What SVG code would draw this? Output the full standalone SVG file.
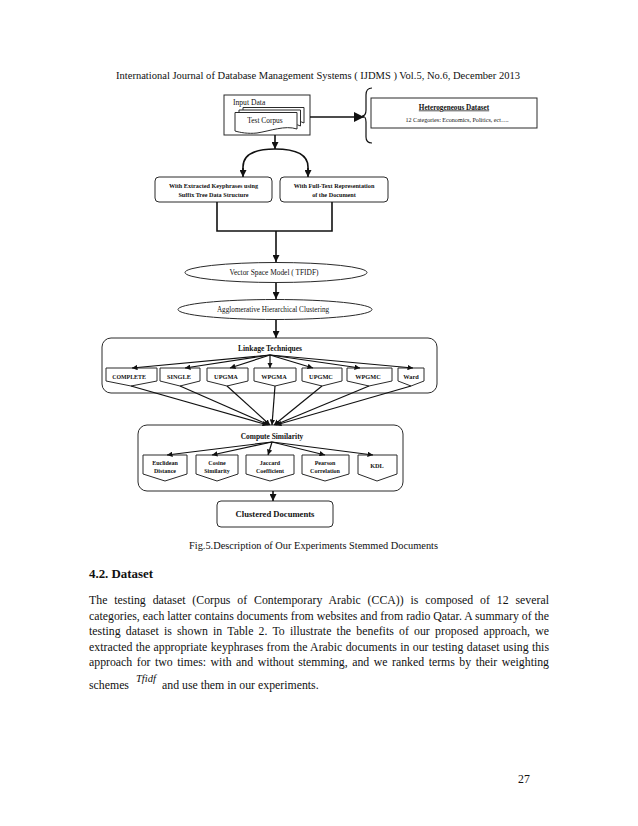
<svg xmlns="http://www.w3.org/2000/svg" width="638" height="826" viewBox="0 0 638 826">
<style>
.t{font-family:"Liberation Serif","Times New Roman",serif;fill:#111}
.b{font-weight:bold}
.m{text-anchor:middle}
.box{fill:#fff;stroke:#2a2a2a;stroke-width:1}
.con{fill:none;stroke:#111;stroke-width:1.2}
.thick{fill:none;stroke:#111;stroke-width:1.6}
</style>
<defs>
<marker id="a" viewBox="0 0 10 10" refX="10" refY="5" markerWidth="7" markerHeight="7" markerUnits="userSpaceOnUse" orient="auto"><path d="M0,0 L10,5 L0,10 z" fill="#111"/></marker>
<marker id="s" viewBox="0 0 10 10" refX="10" refY="5" markerWidth="5.5" markerHeight="5.5" markerUnits="userSpaceOnUse" orient="auto"><path d="M0,0 L10,5 L0,10 z" fill="#111"/></marker>
<marker id="L" viewBox="0 0 10 10" refX="10" refY="5" markerWidth="10" markerHeight="10" markerUnits="userSpaceOnUse" orient="auto"><path d="M0,0 L10,5 L0,10 z" fill="#111"/></marker>
</defs>
<rect width="638" height="826" fill="#fff"/>

<text class="t m" x="318" y="79" font-size="10.7" textLength="404" lengthAdjust="spacingAndGlyphs">International Journal of Database Management Systems ( IJDMS ) Vol.5, No.6, December 2013</text>

<g id="input-data">
<rect class="box" x="224" y="95" width="86" height="40"/>
<text class="t" x="233" y="105" font-size="7.6">Input Data</text>
<path class="box" d="M243,107.5 H304 V123 C297,119 288,124 280,124 H243 Z"/>
<path class="box" d="M239,110 H300.5 V126 C293,122 284,127 276,127 H239 Z"/>
<path class="box" d="M235,112.5 H297 V129 C285,125 270,131 257,133 C248,134 240,132.5 235,131 Z"/>
<text class="t m" x="265" y="123" font-size="7.4">Test Corpus</text>
</g>

<g id="heterogeneous-dataset">
<rect class="box" x="371" y="98" width="166" height="30"/>
<text class="t b m" x="454" y="109.5" font-size="7.2" text-decoration="underline">Heterogeneous Dataset</text>
<text class="t m" x="457" y="121.5" font-size="6.1">12 Categories: Economics, Politics,  ect….</text>
</g>

<g id="keyphrases">
<rect class="box" x="155" y="177" width="117" height="25" rx="4"/>
<text class="t b m" x="213.5" y="187.5" font-size="6.2">With Extracted Keyphrases using</text>
<text class="t b m" x="213.5" y="196.5" font-size="6.2">Suffix Tree Data Structure</text>
</g>

<g id="fulltext">
<rect class="box" x="280" y="177" width="108" height="25" rx="4"/>
<text class="t b m" x="334" y="187.5" font-size="6.2">With Full-Text  Representation</text>
<text class="t b m" x="334" y="196.5" font-size="6.2">of the Document</text>
</g>

<g id="vsm">
<ellipse class="box" cx="276" cy="272.5" rx="91" ry="10"/>
<text class="t m" x="274" y="275" font-size="7.4">Vector Space Model ( TFIDF)</text>
</g>

<g id="ahc">
<ellipse class="box" cx="275" cy="309.5" rx="97" ry="10"/>
<text class="t m" x="273" y="312" font-size="7.2">Agglomerative Hierarchical Clustering</text>
</g>

<g id="linkage-techniques">
<rect class="box" x="102" y="338" width="335" height="55" rx="9"/>
<text class="t b m" x="270" y="351" font-size="7.5">Linkage Techniques</text>
</g>
<g id="complete"><polygon class="box" points="106,368 157,368 157,381 131,386 106,381"/><text class="t b m" x="129" y="378.5" font-size="5.9">COMPLETE</text></g>
<g id="single"><polygon class="box" points="160,368 200,368 200,381 180,386 160,381"/><text class="t b m" x="179" y="378.5" font-size="6.3">SINGLE</text></g>
<g id="upgma"><polygon class="box" points="207,368 248,368 248,381 227,386 207,381"/><text class="t b m" x="226" y="378.5" font-size="6.3">UPGMA</text></g>
<g id="wpgma"><polygon class="box" points="254,368 296,368 296,381 275,386 254,381"/><text class="t b m" x="274" y="378.5" font-size="6.3">WPGMA</text></g>
<g id="upgmc"><polygon class="box" points="302,368 342,368 342,381 322,386 302,381"/><text class="t b m" x="321" y="378.5" font-size="6.3">UPGMC</text></g>
<g id="wpgmc"><polygon class="box" points="347,368 392,368 392,381 369,386 347,381"/><text class="t b m" x="368" y="378.5" font-size="6.3">WPGMC</text></g>
<g id="ward"><polygon class="box" points="398,368 424,368 424,381 411,386 398,381"/><text class="t b m" x="411" y="378.5" font-size="6.3">Ward</text></g>

<g id="compute-similarity">
<rect class="box" x="138" y="425" width="265" height="66" rx="9"/>
<text class="t b m" x="272" y="439" font-size="7.4">Compute Similarity</text>
</g>
<g id="euclidean"><polygon class="box" points="143,455 187,455 187,474 165,481 143,474"/><text class="t b m" x="165" y="464.5" font-size="6">Euclidean</text><text class="t b m" x="165" y="472.5" font-size="6">Distance</text></g>
<g id="cosine"><polygon class="box" points="196,455 238,455 238,474 217,481 196,474"/><text class="t b m" x="217" y="464.5" font-size="6">Cosine</text><text class="t b m" x="217" y="472.5" font-size="6">Similarity</text></g>
<g id="jaccard"><polygon class="box" points="246,455 294,455 294,474 270,481 246,474"/><text class="t b m" x="270" y="464.5" font-size="6">Jaccard</text><text class="t b m" x="270" y="472.5" font-size="6">Coefficient</text></g>
<g id="pearson"><polygon class="box" points="302,455 349,455 349,474 325,481 302,474"/><text class="t b m" x="325" y="464.5" font-size="6">Pearson</text><text class="t b m" x="325" y="472.5" font-size="6">Correlation</text></g>
<g id="kdl"><polygon class="box" points="358,455 397,455 397,474 377,481 358,474"/><text class="t b m" x="377" y="468" font-size="6.3">KDL</text></g>

<g id="clustered-documents">
<rect class="box" x="217" y="501" width="116" height="26" rx="4"/>
<text class="t b m" x="275" y="517" font-size="8.6">Clustered Documents</text>
</g>

<g id="connectors">
<path class="thick" d="M310,117 H364" marker-end="url(#L)"/>
<path class="con" d="M372,88 Q366,88 366,95 V110 Q366,116 362,116 Q366,116 366,122 V137 Q366,143 372,143"/>
<path class="thick" d="M275,135 V149" marker-end="url(#a)"/>
<path class="thick" d="M243,170 V167 Q243,149 275,149 Q308,149 308,167 V170"/>
<path class="thick" d="M243,168 V177" marker-end="url(#a)"/>
<path class="thick" d="M308,168 V177" marker-end="url(#a)"/>
<path class="thick" d="M217,202 V231 H332 V202"/>
<path class="thick" d="M276,231 V262" marker-end="url(#a)"/>
<path class="thick" d="M276,283 V299" marker-end="url(#a)"/>
<path class="thick" d="M276,320 V338" marker-end="url(#a)"/>
<g class="con">
<path d="M270,355 L132,368" marker-end="url(#s)"/>
<path d="M270,355 L185,368" marker-end="url(#s)"/>
<path d="M270,355 L230,368" marker-end="url(#s)"/>
<path d="M270,355 L270,368" marker-end="url(#s)"/>
<path d="M270,355 L313,368" marker-end="url(#s)"/>
<path d="M270,355 L360,368" marker-end="url(#s)"/>
<path d="M270,355 L413,368" marker-end="url(#s)"/>
<path d="M131,386 L268,425" marker-end="url(#s)"/>
<path d="M180,386 L269,425" marker-end="url(#s)"/>
<path d="M227,386 L270,425" marker-end="url(#s)"/>
<path d="M275,386 L272,425" marker-end="url(#s)"/>
<path d="M322,386 L274,425" marker-end="url(#s)"/>
<path d="M369,386 L275,425" marker-end="url(#s)"/>
<path d="M411,386 L276,425" marker-end="url(#s)"/>
<path d="M272,442 L167,455" marker-end="url(#s)"/>
<path d="M272,442 L212,455" marker-end="url(#s)"/>
<path d="M272,442 L268,455" marker-end="url(#s)"/>
<path d="M272,442 L325,455" marker-end="url(#s)"/>
<path d="M272,442 L373,455" marker-end="url(#s)"/>
</g>
<path class="thick" d="M273,491 V501" marker-end="url(#a)"/>
</g>

<text class="t m" x="313.5" y="549" font-size="10.7" textLength="249" lengthAdjust="spacingAndGlyphs">Fig.5.Description of Our Experiments Stemmed Documents</text>

<text class="t b" x="89" y="578" font-size="12.9">4.2. Dataset</text>
<g font-size="11.8">
<text class="t" x="89" y="604" word-spacing="3.9" textLength="460" lengthAdjust="spacing">The testing dataset (Corpus of Contemporary Arabic (CCA)) is composed of 12 several</text>
<text class="t" x="89" y="619.5" textLength="460" lengthAdjust="spacing">categories, each latter contains documents from websites and from radio Qatar. A summary of the</text>
<text class="t" x="89" y="635" word-spacing="2.2" textLength="460" lengthAdjust="spacing">testing dataset is shown in Table 2. To illustrate the benefits of our proposed approach, we</text>
<text class="t" x="89" y="650.5" word-spacing="0.4" textLength="460" lengthAdjust="spacing">extracted the appropriate keyphrases from the Arabic documents in our testing dataset using this</text>
<text class="t" x="89" y="666" word-spacing="1.56" textLength="460" lengthAdjust="spacing">approach for two times: with and without stemming, and we ranked terms by their weighting</text>
<text class="t" x="89" y="689">schemes</text>
<text class="t" x="136" y="681.5" font-size="10.5" font-style="italic">Tfidf</text>
<text class="t" x="162" y="689">and use them in our experiments.</text>
</g>

<text class="t" x="518" y="783" font-size="11.8">27</text>
</svg>
